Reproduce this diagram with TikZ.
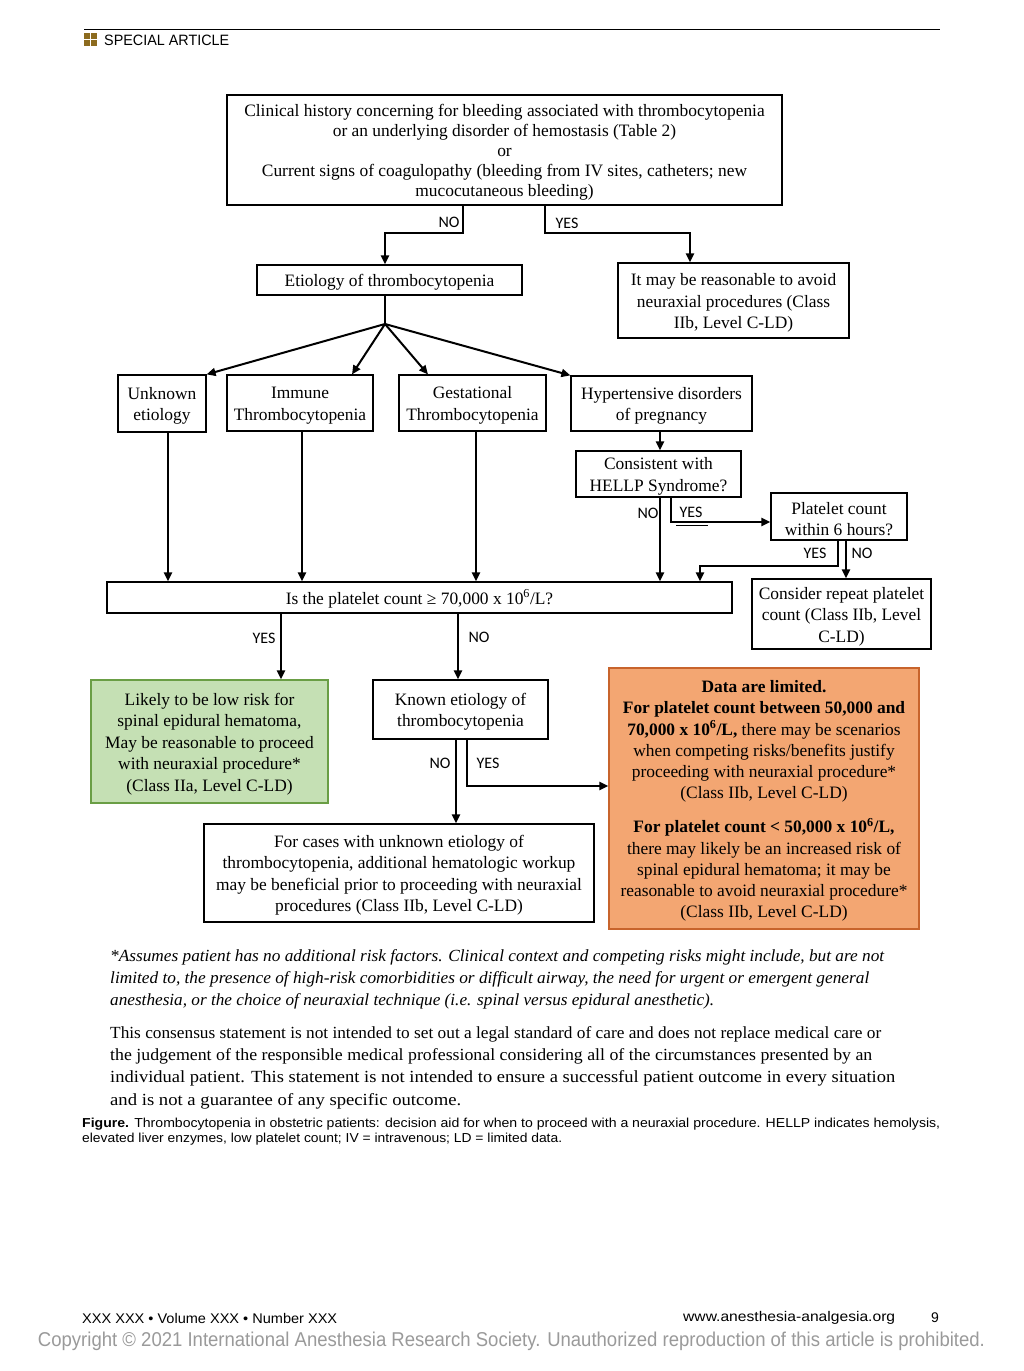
\documentclass[tikz,border=0pt]{standalone}
\usepackage{graphicx}
\usepackage{fontspec}
\setmainfont{Liberation Serif}
\newfontfamily\lblfont{Carlito}
\newfontfamily\hdrfont{Liberation Sans}
\usetikzlibrary{arrows.meta,calc}
\definecolor{greenfill}{HTML}{C5E0B4}
\definecolor{greenline}{HTML}{6A9E45}
\definecolor{orangefill}{HTML}{F3A672}
\definecolor{orangeline}{HTML}{C8642C}
\definecolor{goldicon}{HTML}{8C6B1E}
\definecolor{copygray}{HTML}{9A9A9A}
\newcommand{\sv}{\rule{0pt}{17pt}}
\begin{document}
\begin{tikzpicture}[x=1pt,y=-1pt,
  box/.style={draw, line width=1.2pt, align=center, inner sep=0pt, font=\fontsize{17.4}{21.5}\selectfont},
  arr/.style={line width=2pt, -{Triangle[length=9pt,width=8pt]}},
  ln/.style={line width=2pt},
  lbl/.style={font=\lblfont\fontsize{16}{18}\selectfont, inner sep=0pt},
  txt/.style={anchor=west, inner sep=0pt},
]
\useasboundingbox (0,0) rectangle (1024,1371);
\fill[white] (0,0) rectangle (1024,1371);

% header
\draw[line width=0.8pt] (84,29) -- (940,29);
\fill[goldicon] (84,33) rectangle (90,39);
\fill[goldicon] (91,33) rectangle (97,39);
\fill[goldicon] (84,40) rectangle (90,46);
\fill[goldicon] (91,40) rectangle (97,46);
\node[txt] (hdr) at (104,40) {\resizebox{125pt}{\height}{\hdrfont\fontsize{15}{16}\selectfont SPECIAL ARTICLE}};

% boxes
\node[box, font=\fontsize{17.4}{20}\selectfont, minimum width=555, minimum height=110] (top) at (504.5,150)
 {\sv Clinical history concerning for bleeding associated with thrombocytopenia\\
  or an underlying disorder of hemostasis (Table 2)\\
  or\\
  Current signs of coagulopathy (bleeding from IV sites, catheters; new\\
  mucocutaneous bleeding)};
\node[box, minimum width=265, minimum height=30] (etio) at (389.5,280) {\sv Etiology of thrombocytopenia};
\node[box, minimum width=231, minimum height=75] (avoid) at (733.5,300.5)
 {\sv It may be reasonable to avoid\\ neuraxial procedures (Class\\ IIb, Level C-LD)};
\node[box, minimum width=88, minimum height=57] (unk) at (162,403.5) {\sv Unknown\\ etiology};
\node[box, minimum width=146, minimum height=56] (imm) at (300,403) {\sv Immune\\ Thrombocytopenia};
\node[box, minimum width=147, minimum height=56] (gest) at (472.5,403) {\sv Gestational\\ Thrombocytopenia};
\node[box, minimum width=181, minimum height=55] (hyp) at (661.5,403.5) {\sv Hypertensive disorders\\ of pregnancy};
\node[box, minimum width=165, minimum height=46] (hellp) at (658.5,474) {\sv Consistent with\\ HELLP Syndrome?};
\node[box, minimum width=136, minimum height=47] (plt6) at (839,516.5) {\sv Platelet count\\ within 6 hours?};
\node[box, minimum width=625, minimum height=31] (q) at (419.5,597.5) {\sv Is the platelet count ≥ 70,000 x 10\textsuperscript{6}/L?};
\node[box, minimum width=179, minimum height=70] (cons) at (841.5,614) {\sv Consider repeat platelet\\ count (Class IIb, Level\\ C-LD)};
\node[box, draw=greenline, fill=greenfill, minimum width=237, minimum height=123] (green) at (209.5,741.5)
 {\sv Likely to be low risk for\\ spinal epidural hematoma,\\ May be reasonable to proceed\\ with neuraxial procedure*\\ (Class IIa, Level C-LD)};
\node[box, minimum width=175, minimum height=59] (known) at (460.5,709.5) {\sv Known etiology of\\ thrombocytopenia};
\node[box, minimum width=390, minimum height=98] (cases) at (399,873)
 {\sv For cases with unknown etiology of\\ thrombocytopenia, additional hematologic workup\\ may be beneficial prior to proceeding with neuraxial\\ procedures (Class IIb, Level C-LD)};
\node[box, font=\fontsize{17.4}{21.2}\selectfont, draw=orangeline, fill=orangefill, minimum width=310, minimum height=261] (orange) at (764,798.5)
 {\sv\textbf{Data are limited.}\\
  \textbf{For platelet count between 50,000 and}\\
  \textbf{70,000 x 10\textsuperscript{6}/L,} there may be scenarios\\
  when competing risks/benefits justify\\
  proceeding with neuraxial procedure*\\
  (Class IIb, Level C-LD)\\[13pt]
  \textbf{For platelet count < 50,000 x 10\textsuperscript{6}/L,}\\
  there may likely be an increased risk of\\
  spinal epidural hematoma; it may be\\
  reasonable to avoid neuraxial procedure*\\
  (Class IIb, Level C-LD)};

% helper coordinates
\coordinate (br) at (385,324);
\coordinate (xa) at (281,0);
\coordinate (xb) at (458,0);
\coordinate (xc) at (456,0);
\coordinate (xd) at (467,0);
\coordinate (xu) at (168,0);
\coordinate (xi) at (302,0);
\coordinate (xg) at (476,0);
\coordinate (xh) at (660,0);
\coordinate (xy) at (671,0);
\coordinate (xp) at (838,0);
\coordinate (xn) at (846,0);
\coordinate (x7) at (700,0);

% connectors
\draw[arr] ([xshift=-41.5pt]top.south) -- ++(0,27) -| ([xshift=-4.5pt]etio.north);
\draw[arr] ([xshift=40.5pt]top.south) -- ++(0,27) -| ([xshift=-43.5pt]avoid.north);
\draw[ln] ([xshift=-4.5pt]etio.south) -- (br);
\draw[arr] (br) -- (unk.north east);
\draw[arr] (br) -- ([xshift=52pt]imm.north);
\draw[arr] (br) -- ([xshift=-44.5pt]gest.north);
\draw[arr] (br) -- (hyp.north west);
\draw[arr] (xh |- hyp.south) -- (xh |- hellp.north);
\draw[arr] (xh |- hellp.south) -- (xh |- q.north);
\draw[arr] (xy |- hellp.south) |- ([yshift=-5.5pt]plt6.west);
\draw[line width=1pt] (676,525.5) -- (708,525.5);
\draw[arr] (xp |- plt6.south) -- ++(0,25) -| (x7 |- q.north);
\draw[arr] (xn |- plt6.south) -- (xn |- cons.north);
\draw[arr] (xu |- unk.south) -- (xu |- q.north);
\draw[arr] (xi |- imm.south) -- (xi |- q.north);
\draw[arr] (xg |- gest.south) -- (xg |- q.north);
\draw[arr] (xa |- q.south) -- (xa |- green.north);
\draw[arr] (xb |- q.south) -- (xb |- known.north);
\draw[arr] (xc |- known.south) -- (xc |- cases.north);
\draw[arr] (xd |- known.south) |- ([yshift=12.5pt]orange.west);

% labels
\node[lbl] (l1) at (449,222) {NO};
\node[lbl] (l2) at (567,223) {YES};
\node[lbl] (l3) at (648,513) {NO};
\node[lbl] (l4) at (691,512) {YES};
\node[lbl] (l5) at (815,553) {YES};
\node[lbl] (l6) at (862,553) {NO};
\node[lbl] (l7) at (264,638) {YES};
\node[lbl] (l8) at (479,637) {NO};
\node[lbl] (l9) at (440,763) {NO};
\node[lbl] (l10) at (488,763) {YES};

% footnote
\node[txt] (f1) at (110,957) {\resizebox{774pt}{\height}{\fontsize{17}{20}\selectfont\itshape *Assumes patient has no additional risk factors. Clinical context and competing risks might include, but are not}};
\node[txt] (f2) at (110,979) {\resizebox{759pt}{\height}{\fontsize{17}{20}\selectfont\itshape limited to, the presence of high-risk comorbidities or difficult airway, the need for urgent or emergent general}};
\node[txt] (f3) at (110,1001) {\resizebox{604pt}{\height}{\fontsize{17}{20}\selectfont\itshape anesthesia, or the choice of neuraxial technique (i.e. spinal versus epidural anesthetic).}};

\node[txt] (s1) at (110,1034) {\resizebox{771pt}{\height}{\fontsize{17}{20}\selectfont This consensus statement is not intended to set out a legal standard of care and does not replace medical care or}};
\node[txt] (s2) at (110,1056) {\resizebox{762pt}{\height}{\fontsize{17}{20}\selectfont the judgement of the responsible medical professional considering all of the circumstances presented by an}};
\node[txt] (s3) at (110,1078) {\resizebox{785pt}{\height}{\fontsize{17}{20}\selectfont individual patient. This statement is not intended to ensure a successful patient outcome in every situation}};
\node[txt] (s4) at (110,1101) {\resizebox{351pt}{\height}{\fontsize{17}{20}\selectfont and is not a guarantee of any specific outcome.}};

% caption
\node[txt] (c1) at (82,1124) {\resizebox{858pt}{\height}{\hdrfont\fontsize{13}{14}\selectfont\textbf{Figure.} Thrombocytopenia in obstetric patients: decision aid for when to proceed with a neuraxial procedure. HELLP indicates hemolysis,}};
\node[txt] (c2) at (82,1139) {\resizebox{480pt}{\height}{\hdrfont\fontsize{13}{14}\selectfont elevated liver enzymes, low platelet count; IV = intravenous; LD = limited data.}};

% footer
\node[txt] (ft1) at (82,1318) {\resizebox{255pt}{\height}{\hdrfont\fontsize{14}{16}\selectfont XXX XXX • Volume XXX • Number XXX}};
\node[txt] (ft2) at (683,1318) {\resizebox{212pt}{\height}{\hdrfont\fontsize{14}{16}\selectfont www.anesthesia-analgesia.org}};
\node[inner sep=0pt] (ft3) at (935,1318) {\hdrfont\fontsize{14}{16}\selectfont 9};
\node[inner sep=0pt, text=copygray] (copy) at (511.5,1341) {\resizebox{947pt}{\height}{\hdrfont\fontsize{20}{22}\selectfont Copyright © 2021 International Anesthesia Research Society. Unauthorized reproduction of this article is prohibited.}};
\end{tikzpicture}
\end{document}
